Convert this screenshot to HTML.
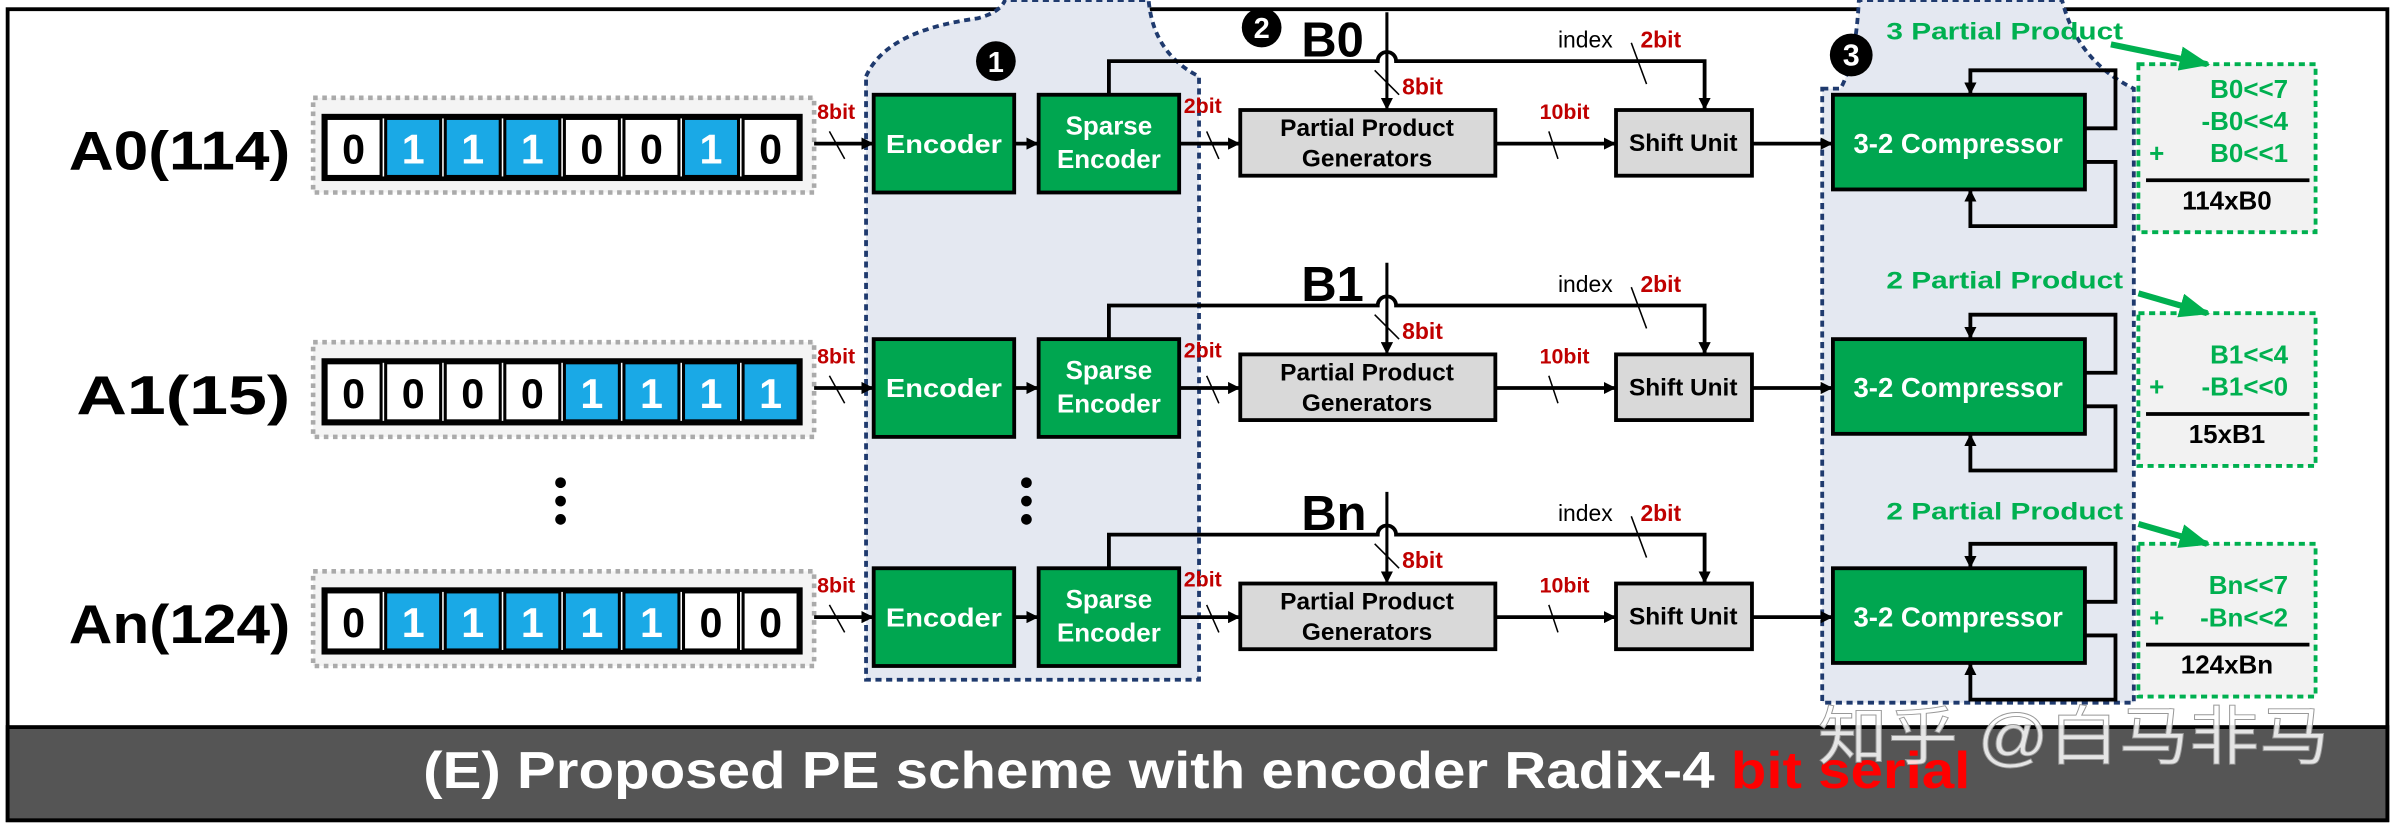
<!DOCTYPE html>
<html><head><meta charset="utf-8"><style>
html,body{margin:0;padding:0;background:#fff;}
svg{display:block;}
text{font-family:"Liberation Sans","Noto Sans CJK SC",sans-serif;font-weight:bold;}
</style></head><body>
<svg width="2395" height="831" viewBox="0 0 1568 544" xmlns="http://www.w3.org/2000/svg">
<defs>
<marker id="ah" markerWidth="8" markerHeight="8" refX="7" refY="4" orient="auto" markerUnits="userSpaceOnUse"><path d="M0,0 L8,4 L0,8 Z" fill="#000"/></marker>
<marker id="gh" markerWidth="20" markerHeight="16" refX="18" refY="8" orient="auto" markerUnits="userSpaceOnUse"><path d="M0,0 L20,8 L0,16 Z" fill="#00b050"/></marker>
</defs>
<rect x="0" y="0" width="1568" height="544" fill="#fff"/>
<rect x="5" y="6" width="1558" height="531" fill="none" stroke="#000" stroke-width="2.5"/>

<path d="M567,50 Q580,20 640,12 Q655,8 658,0 L752,0 Q755,35 785,50 L785,445 L567,445 Z" fill="#e4e8f1" stroke="#1f3a6e" stroke-width="2.5" stroke-dasharray="4 3"/>
<path d="M1193,58 L1205,58 Q1215,40 1217,0 L1350,0 Q1360,40 1397,58 L1397,460 L1193,460 Z" fill="#e4e8f1" stroke="#1f3a6e" stroke-width="2.5" stroke-dasharray="4 3"/>

<circle cx="652" cy="40" r="13" fill="#000"/><text x="652" y="47" font-size="19" fill="#fff" text-anchor="middle">1</text>
<circle cx="826" cy="18" r="13" fill="#000"/><text x="826" y="25" font-size="19" fill="#fff" text-anchor="middle">2</text>
<circle cx="1212" cy="36" r="14" fill="#000"/><text x="1212" y="43" font-size="20" fill="#fff" text-anchor="middle">3</text>

<g id="rows">
</g>

<g fill="#000">
<circle cx="367" cy="316" r="3.5"/><circle cx="367" cy="328" r="3.5"/><circle cx="367" cy="340" r="3.5"/>
<circle cx="672" cy="316" r="3.5"/><circle cx="672" cy="328" r="3.5"/><circle cx="672" cy="340" r="3.5"/>
</g>

<rect x="5" y="476" width="1558" height="61" fill="#555" stroke="#000" stroke-width="2.5"/>
<text x="277" y="516" font-size="34" fill="#fff" textLength="1013" lengthAdjust="spacingAndGlyphs">(E) Proposed PE scheme with encoder Radix-4 <tspan fill="#ff0000">bit serial</tspan></text>
<text x="1190" y="497" font-size="42" fill="#fff" fill-opacity="0.85" style="font-weight:normal" stroke="#999" stroke-width="0.6" textLength="335" lengthAdjust="spacingAndGlyphs">知乎 @白马非马</text>
</svg>
<script>
(function(){
var rows=[
 {dy:0,lab:"A0(114)",bits:"01110010",B:"B0",pp:"3 Partial Product",lines:["B0<<7","-B0<<4","B0<<1"],plus:2,res:"114xB0",gy1:42,gy2:152},
 {dy:160,lab:"A1(15)",bits:"00001111",B:"B1",pp:"2 Partial Product",lines:["B1<<4","-B1<<0"],plus:1,res:"15xB1",gy1:205,gy2:305},
 {dy:310,lab:"An(124)",bits:"01111100",B:"Bn",pp:"2 Partial Product",lines:["Bn<<7","-Bn<<2"],plus:1,res:"124xBn",gy1:356,gy2:456}
];
var s="";
rows.forEach(function(r){
 var d=r.dy;
 s+='<g transform="translate(0,'+d+')">';
 s+='<text x="190" y="111" font-size="36" text-anchor="end" textLength="'+(r.lab.length==6?140:145)+'" lengthAdjust="spacingAndGlyphs">'+r.lab+'</text>';
 s+='<rect x="205" y="64" width="328" height="62" fill="#f4f4f4" stroke="#aaa" stroke-width="3" stroke-dasharray="3 3"/>';
 s+='<rect x="212" y="76" width="312" height="41" fill="#fff" stroke="#000" stroke-width="3"/>';
 for(var i=0;i<8;i++){var b=r.bits[i];var x=212+i*39;
  s+='<rect x="'+(x+1.5)+'" y="77.5" width="36" height="38" fill="'+(b=="1"?"#1aa9e6":"#fff")+'" stroke="#000" stroke-width="2"/>';
  s+='<text x="'+(x+19.5)+'" y="107" font-size="27" text-anchor="middle" fill="'+(b=="1"?"#fff":"#000")+'">'+b+'</text>';}
 s+='<line x1="533" y1="94" x2="571" y2="94" stroke="#000" stroke-width="2.5" marker-end="url(#ah)"/><line x1="543" y1="86" x2="553" y2="104" stroke="#000" stroke-width="1"/>';
 s+='<text x="535" y="78" font-size="14" fill="#c00000">8bit</text>';
 s+='<rect x="572" y="62" width="92" height="64" fill="#00a650" stroke="#000" stroke-width="2.5"/><text x="618" y="100" font-size="17" fill="#fff" text-anchor="middle" textLength="76" lengthAdjust="spacingAndGlyphs">Encoder</text>';
 s+='<line x1="664" y1="94" x2="679" y2="94" stroke="#000" stroke-width="2.5" marker-end="url(#ah)"/>';
 s+='<rect x="680" y="62" width="92" height="64" fill="#00a650" stroke="#000" stroke-width="2.5"/><text x="726" y="88" font-size="17" fill="#fff" text-anchor="middle">Sparse</text><text x="726" y="110" font-size="17" fill="#fff" text-anchor="middle">Encoder</text>';
 s+='<line x1="772" y1="94" x2="811" y2="94" stroke="#000" stroke-width="2.5" marker-end="url(#ah)"/><line x1="790" y1="86" x2="798" y2="104" stroke="#000" stroke-width="1"/>';
 s+='<text x="775" y="74" font-size="14" fill="#c00000">2bit</text>';
 s+='<rect x="812" y="72" width="167" height="43" fill="#d9d9d9" stroke="#000" stroke-width="2.5"/><text x="895" y="89" font-size="16" text-anchor="middle">Partial Product</text><text x="895" y="109" font-size="16" text-anchor="middle">Generators</text>';
 s+='<line x1="979" y1="94" x2="1057" y2="94" stroke="#000" stroke-width="2.5" marker-end="url(#ah)"/><line x1="1014" y1="86" x2="1020" y2="104" stroke="#000" stroke-width="1"/>';
 s+='<text x="1008" y="78" font-size="14" fill="#c00000">10bit</text>';
 s+='<rect x="1058" y="72" width="89" height="43" fill="#d9d9d9" stroke="#000" stroke-width="2.5"/><text x="1102" y="99" font-size="16" text-anchor="middle">Shift Unit</text>';
 s+='<path d="M726,62 V40 H902 A6,6 0 0 1 914,40 H1116 V71" fill="none" stroke="#000" stroke-width="2.5" marker-end="url(#ah)"/>';
 s+='<line x1="908" y1="'+(d==0?8:12)+'" x2="908" y2="71" stroke="#000" stroke-width="2" marker-end="url(#ah)"/>';
 s+='<line x1="900" y1="46" x2="916" y2="62" stroke="#000" stroke-width="1"/>';
 s+='<text x="918" y="62" font-size="15" fill="#c00000">8bit</text>';
 s+='<text x="852" y="37" font-size="32">'+r.B+'</text>';
 s+='<text x="1020" y="31" font-size="15" style="font-weight:normal">index</text><text x="1074" y="31" font-size="15" fill="#c00000">2bit</text>';
 s+='<line x1="1068" y1="28" x2="1078" y2="55" stroke="#000" stroke-width="1"/>';
 s+='<line x1="1147" y1="94" x2="1199" y2="94" stroke="#000" stroke-width="2.5" marker-end="url(#ah)"/>';
 s+='<rect x="1200" y="62" width="165" height="62" fill="#00a650" stroke="#000" stroke-width="2.5"/><text x="1282" y="100" font-size="18" fill="#fff" text-anchor="middle">3-2 Compressor</text>';
 s+='<path d="M1365,84 H1385 V46 H1290 V61" fill="none" stroke="#000" stroke-width="2.5" marker-end="url(#ah)"/>';
 s+='<path d="M1365,106 H1385 V148 H1290 V125" fill="none" stroke="#000" stroke-width="2.5" marker-end="url(#ah)"/>';
 s+='</g>';
 var y1=r.gy1,y2=r.gy2;
 s+='<rect x="1400" y="'+y1+'" width="116" height="'+(y2-y1)+'" fill="#f2f2f2" stroke="#00b050" stroke-width="2.5" stroke-dasharray="4 3"/>';
 var ly=y1+(r.lines.length==3?22:33);
 r.lines.forEach(function(t,k){
  s+='<text x="1498" y="'+(ly+k*21)+'" font-size="17" fill="#00b050" text-anchor="end">'+t+'</text>';
  if(k==r.plus) s+='<text x="1407" y="'+(ly+k*21)+'" font-size="17" fill="#00b050">+</text>';
 });
 var sep=ly+(r.lines.length-1)*21+12;
 s+='<line x1="1405" y1="'+sep+'" x2="1512" y2="'+sep+'" stroke="#000" stroke-width="2.5"/>';
 s+='<text x="1458" y="'+(y2-15)+'" font-size="17" text-anchor="middle">'+r.res+'</text>';
 s+='<text x="1235" y="'+(y1-16)+'" font-size="16" fill="#00b050" textLength="155" lengthAdjust="spacingAndGlyphs">'+r.pp+'</text>';
 s+='<line x1="'+(d==0?1382:1400)+'" y1="'+(y1-13)+'" x2="1445" y2="'+(y1)+'" stroke="#00b050" stroke-width="4" marker-end="url(#gh)"/>';
});
document.getElementById('rows').innerHTML=s;
})();
</script>
</body></html>
